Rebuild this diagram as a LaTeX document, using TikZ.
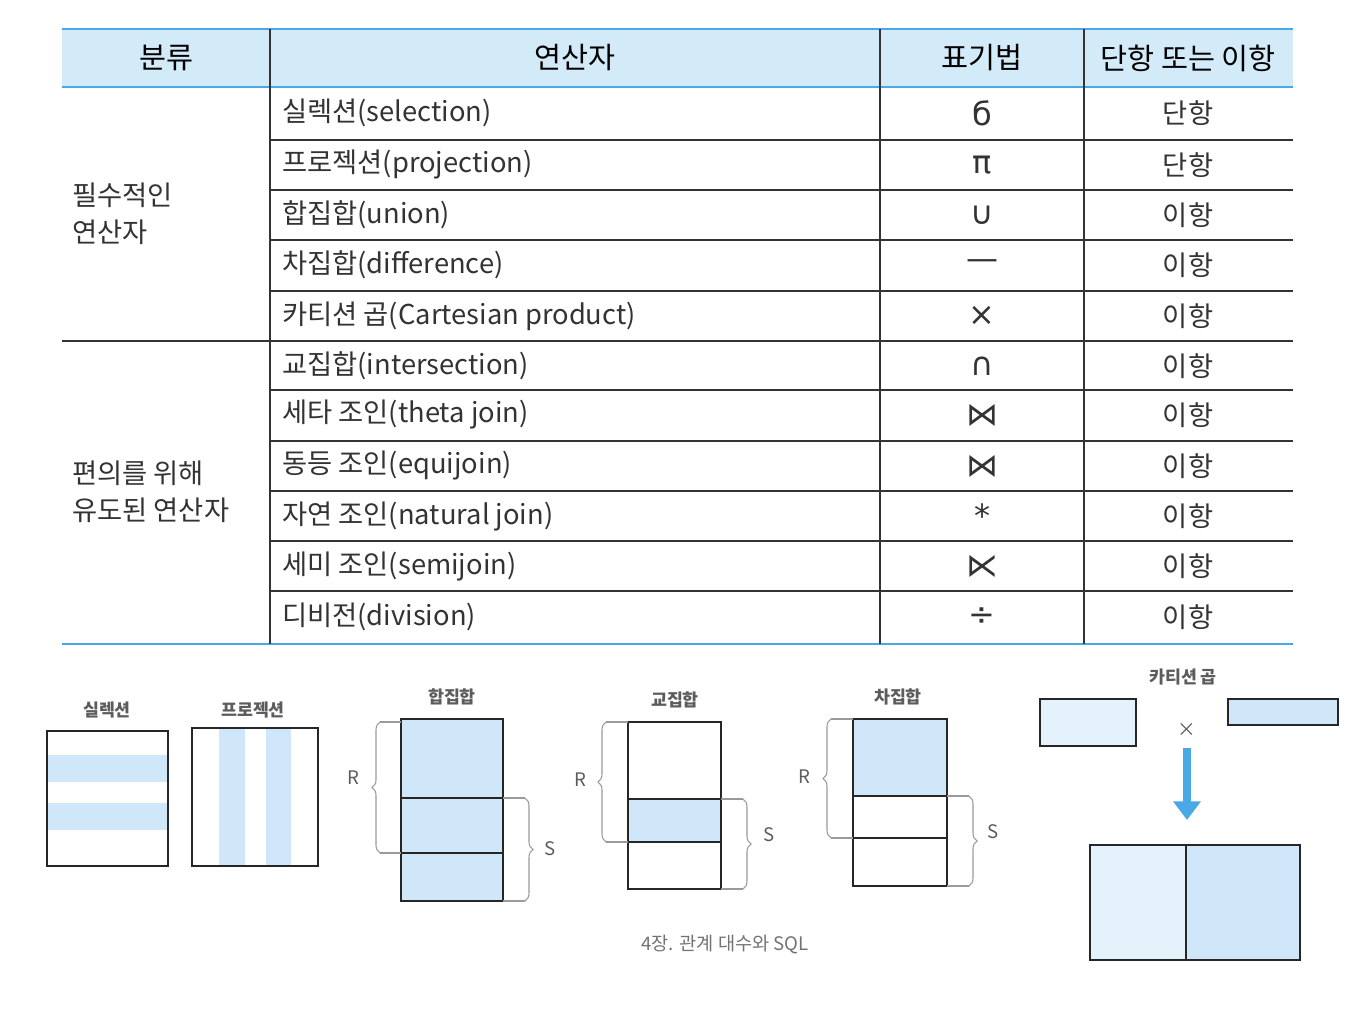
\documentclass[tikz,border=0pt]{standalone}
\usepackage{fontspec}
\setmainfont{Noto Sans CJK KR}
\newfontfamily\symf{DejaVu Sans}
\usetikzlibrary{decorations.pathreplacing,arrows.meta}
\definecolor{hdr}{HTML}{D3EAF9}
\definecolor{bline}{HTML}{4BA8E6}
\definecolor{fillb}{HTML}{CFE7F8}
\definecolor{filll}{HTML}{E4F2FC}
\definecolor{txt}{HTML}{333333}
\definecolor{br}{HTML}{9A9A9A}
\tikzset{
 tx/.style={font=\fontsize{20.5}{22}\selectfont, text=txt, inner sep=0pt},
 sy/.style={font=\fontsize{24}{26}\selectfont\symf, text=txt, inner sep=0pt},
 hd/.style={font=\fontsize{22}{24}\selectfont, text=black, inner sep=0pt},
 sm/.style={font=\fontsize{13}{14}\selectfont\bfseries, text=txt!80, inner sep=0pt},
 rs/.style={font=\fontsize{14}{14}\selectfont, text=txt!80, inner sep=0pt},
 box/.style={draw=black!85, line width=2pt},
 brc/.style={draw=br, line width=0.8pt},
 brace/.style={brc, decorate, decoration={brace, amplitude=6pt}},
}
\begin{document}
\begin{tikzpicture}[x=0.75pt,y=-0.75pt]
\useasboundingbox (0,0) rectangle (1350,1010);
% header
\fill[hdr] (62,29) rectangle (1293,87);
\draw[bline, line width=2pt] (62,29) -- (1293,29);
\draw[bline, line width=2pt] (62,87) -- (1293,87);
\draw[bline, line width=2pt] (62,644) -- (1293,644);
\foreach \x in {270,880,1084} \draw[black!80, line width=0.9pt] (\x,29) -- (\x,644);
\foreach \y in {140,190,240,291,390,441,491,541,591} \draw[black!80, line width=0.9pt] (270,\y) -- (1293,\y);
\draw[black!80, line width=0.9pt] (62,341) -- (1293,341);
\node[hd] (h1) at (166,58) {분류};
\node[hd] (h2) at (575,58) {연산자};
\node[hd] (h3) at (982,58) {표기법};
\node[hd] (h4) at (1188,58) {단항 또는 이항};
\node[tx, anchor=west, align=left] (g1) at (72,214) {필수적인\\[6pt]연산자};
\node[tx, anchor=west, align=left] (g2) at (72,492) {편의를 위해\\[6pt]유도된 연산자};
\foreach \yc/\op/\sy/\ar [count=\i] in {
 113/실렉션(selection)/б/단항,
 165/프로젝션(projection)/π/단항,
 215/합집합(union)/∪/이항,
 265/차집합(difference)/—/이항,
 316/카티션 곱(Cartesian product)/×/이항,
 366/교집합(intersection)/∩/이항,
 415/세타 조인(theta join)/⋈/이항,
 466/동등 조인(equijoin)/⋈/이항,
 516/자연 조인(natural join)/*/이항,
 566/세미 조인(semijoin)/⋉/이항,
 617/디비전(division)/÷/이항} {
 \node[tx, anchor=west] (op\i) at (282,\yc) {\op};
 \node[sy] (sy\i) at (982,\yc) {\sy};
 \node[tx] (ar\i) at (1188,\yc) {\ar};
}
% selection
\node[sm] (l1) at (107,710) {실렉션};
\fill[fillb] (47,755) rectangle (168,782);
\fill[fillb] (47,803) rectangle (168,830);
\draw[box] (47,731) rectangle (168,866);
% projection
\node[sm] (l2) at (253,710) {프로젝션};
\fill[fillb] (219,728) rectangle (245,866);
\fill[fillb] (266,728) rectangle (291,866);
\draw[box] (192,728) rectangle (318,866);
% union
\node[sm] (l3) at (452,697) {합집합};
\fill[fillb] (401,719) rectangle (503,901);
\draw[box] (401,719) rectangle (503,901);
\draw[box] (401,798) -- (503,798) (401,853) -- (503,853);
\draw[brc] (401,722) -- (380,722) (380,853) -- (401,853);
\draw[brace] (380,853) -- (380,722);
\node[rs] (r1) at (353,778) {R};
\draw[brc] (503,798) -- (525,798) (525,901) -- (503,901);
\draw[brace] (525,798) -- (525,901);
\node[rs] (s1) at (550,849) {S};
% intersection
\node[sm] (l4) at (675,700) {교집합};
\fill[fillb] (628,799) rectangle (721,842);
\draw[box] (628,722) rectangle (721,889);
\draw[box] (628,799) -- (721,799) (628,842) -- (721,842);
\draw[brc] (628,722) -- (606,722) (606,842) -- (628,842);
\draw[brace] (606,842) -- (606,722);
\node[rs] (r2) at (580,780) {R};
\draw[brc] (721,799) -- (743,799) (743,889) -- (721,889);
\draw[brace] (743,799) -- (743,889);
\node[rs] (s2) at (769,835) {S};
% difference
\node[sm] (l5) at (898,697) {차집합};
\fill[fillb] (853,719) rectangle (947,796);
\draw[box] (853,719) rectangle (947,886);
\draw[box] (853,796) -- (947,796) (853,838) -- (947,838);
\draw[brc] (853,719) -- (831,719) (831,838) -- (853,838);
\draw[brace] (831,838) -- (831,719);
\node[rs] (r3) at (804,777) {R};
\draw[brc] (947,796) -- (969,796) (969,886) -- (947,886);
\draw[brace] (969,796) -- (969,886);
\node[rs] (s3) at (993,832) {S};
% cartesian
\node[sm] (l6) at (1183,677) {카티션 곱};
\draw[box, fill=filll] (1040,699) rectangle (1136,746);
\draw[box, fill=fillb] (1228,699) rectangle (1338,725);
\node[rs] (x) at (1187,730) {×};
\coordinate (a1) at (1187,748);
\coordinate (a2) at (1187,820);
\draw[bline, line width=6pt, -{Triangle[width=20pt,length=14pt]}] (a1) -- (a2);
\fill[filll] (1090,845) rectangle (1186,960);
\fill[fillb] (1186,845) rectangle (1300,960);
\draw[box] (1090,845) rectangle (1300,960);
\draw[box] (1186,845) -- (1186,960);
\node[font=\fontsize{14}{15}\selectfont, text=black!55] (cap) at (725,944) {4장. 관계 대수와 SQL};
\end{tikzpicture}
\end{document}
